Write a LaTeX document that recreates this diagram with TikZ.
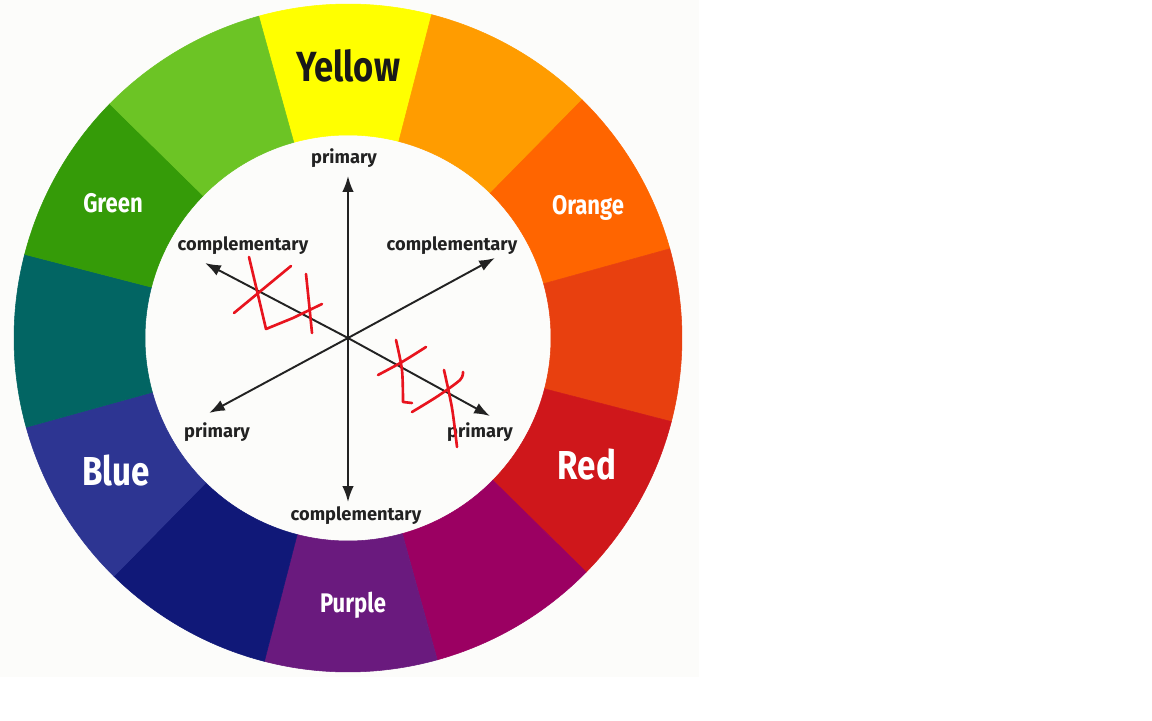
\documentclass[tikz,border=0pt]{standalone}
\usepackage{fontspec}
\setmainfont{Fira Sans}
\newfontfamily\wheelfont[FakeStretch=0.82]{Fira Sans}
\usetikzlibrary{arrows.meta}
\definecolor{bgwhite}{HTML}{FCFCFA}
\definecolor{wYellow}{HTML}{FFFF00}
\definecolor{wYellowOrange}{HTML}{FF9C00}
\definecolor{wOrange}{HTML}{FF6500}
\definecolor{wRedOrange}{HTML}{E8400F}
\definecolor{wRed}{HTML}{CF171B}
\definecolor{wRedPurple}{HTML}{9B0062}
\definecolor{wPurple}{HTML}{6A1A7E}
\definecolor{wBluePurple}{HTML}{101878}
\definecolor{wBlue}{HTML}{2D3592}
\definecolor{wBlueGreen}{HTML}{026563}
\definecolor{wGreen}{HTML}{359B08}
\definecolor{wYellowGreen}{HTML}{6CC425}
\definecolor{axisgray}{HTML}{222222}
\definecolor{scribred}{HTML}{E8141E}
\begin{document}
\begin{tikzpicture}
		% colour wheel of twelve hues with the primary / complementary axes
		[x=0.02cm,y=0.02cm,
		 ringlabel/.style={font=\wheelfont\bfseries\fontsize{15.3}{16}\selectfont,text=white,anchor=base,inner sep=0pt},
		 biglabel/.style={ringlabel,font=\wheelfont\bfseries\fontsize{23}{24}\selectfont},
		 axis/.style={draw=axisgray,line width=1.1pt},
		 axislabel/.style={font=\bfseries\fontsize{10.4}{11}\selectfont,text=axisgray,anchor=base,inner sep=0pt},
		 scribble/.style={draw=scribred,line width=1.5pt,line cap=round,line join=round},
		 >={Latex[length=9pt,width=6.5pt]}]
		\fill[bgwhite] (-348,338) rectangle (351,-339);
		\useasboundingbox (-348,338) rectangle (804,-382);

		\foreach \a/\c in {90.5/wYellow,60.5/wYellowOrange,30.5/wOrange,0.5/wRedOrange,
				-29.5/wRed,-59.5/wRedPurple,-89.5/wPurple,-119.5/wBluePurple,
				-149.5/wBlue,-179.5/wBlueGreen,150.5/wGreen,120.5/wYellowGreen}
			\filldraw[fill=\c,draw=\c,line width=0.3pt] (\a-15:203) arc (\a-15:\a+15:203)
				-- (\a+15:334) arc (\a+15:\a-15:334) -- cycle;

		\node[biglabel,text=black!90,font=\wheelfont\bfseries\fontsize{24}{25}\selectfont] (yellow) at (0,256) {Yellow};
		\node[ringlabel] (orange) at (240,123) {Orange};
		\node[biglabel] (red) at (239,-141) {Red};
		\node[ringlabel] (purple) at (5,-274) {Purple};
		\node[biglabel] (blue) at (-232,-147) {Blue};
		\node[ringlabel] (green) at (-235,125) {Green};

		\coordinate (c) at (0,0);
		\coordinate (pu) at (0,162);
		\coordinate (cl) at (-143,75);
		\coordinate (cr) at (147,80);
		\coordinate (pl) at (-139,-75);
		\coordinate (pr) at (142,-78);
		\coordinate (cd) at (0,-164);

		\draw[axis,->] (c) -- (pu);
		\draw[axis,->] (c) -- (cl);
		\draw[axis,->] (c) -- (cr);
		\draw[axis,->] (c) -- (pl);
		\draw[axis,->] (c) -- (pr);
		\draw[axis,->] (c) -- (cd);

		\node[axislabel] (pu label) at (-4,174) {primary};
		\node[axislabel] (cl label) at (-105,88) {complementary};
		\node[axislabel] (cr label) at (104,88) {complementary};
		\node[axislabel] (pl label) at (-131,-99) {primary};
		\node[axislabel] (pr label) at (132,-99) {primary};
		\node[axislabel] (cd label) at (8,-182) {complementary};

		% red crossings drawn over the two arrows
		\draw[scribble] plot[smooth] coordinates {(-99,81) (-90,43) (-82,9)} -- (-55,20) -- (-26,34);
		\draw[scribble] (-114,25) -- (-57,72);
		\draw[scribble] plot[smooth] coordinates {(-42,64) (-39,35) (-36,5)};
		\draw[scribble] plot[smooth] coordinates {(48,-2) (54,-32) (55,-64)} -- (64,-65);
		\draw[scribble] plot[smooth] coordinates {(30,-37) (54,-24) (78,-9)};
		\draw[scribble] plot[smooth] coordinates {(64,-74) (90,-58) (112,-42) (115,-34)};
		\draw[scribble] plot[smooth] coordinates {(96,-32) (104,-70) (109,-109)};
	\end{tikzpicture}
\end{document}
